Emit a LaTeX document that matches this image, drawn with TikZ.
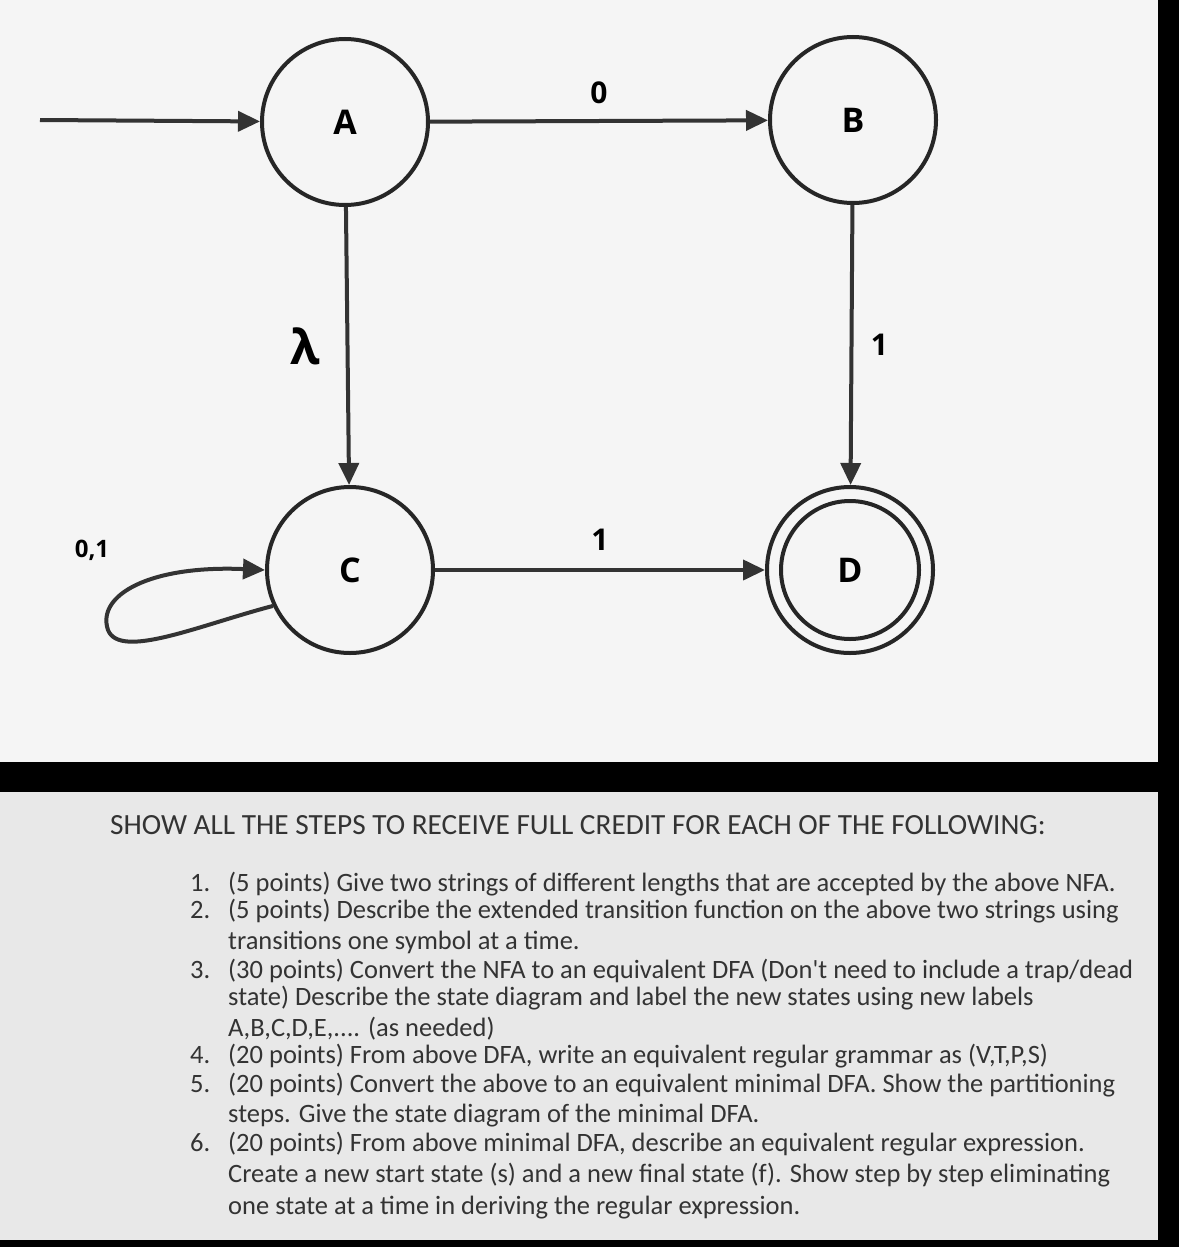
\documentclass[tikz,border=0pt]{standalone}
\usepackage{fontspec}
\setmainfont{Open Sans}
\newfontfamily\carl{Carlito}
\usetikzlibrary{arrows.meta}
\begin{document}
\begin{tikzpicture}[x=1pt,y=-1pt,
  st/.style={circle,draw=black!85,line width=4pt,minimum size=166pt,inner sep=0pt,font=\fontsize{34}{34}\selectfont\bfseries},
  tr/.style={draw=black!80,line width=4pt,-{Triangle[length=22pt,width=20pt]}},
  lb/.style={font=\fontsize{30}{30}\selectfont\bfseries},
  tx/.style={anchor=base west,inner sep=0pt,text=black!80,font=\carl\fontsize{26.5}{27}\selectfont}]
\useasboundingbox (0,0) rectangle (1179,1247);
\fill[black!4] (0,0) rectangle (1179,762);
\fill[black] (0,762) rectangle (1179,792);
\fill[black] (1158,0) rectangle (1179,1247);
\fill[black!9] (0,792) rectangle (1158,1240);
\fill[black] (0,1240) rectangle (1179,1247);
\node[st] (A) at (345,122) {A};
\node[st] (B) at (853,120) {B};
\node[st] (C) at (350,570) {C};
\node[st] (D) at (850,570) {D};
\node[circle,draw=black!85,line width=4pt,minimum size=138pt] (Di) at (850,570) {};
\coordinate (s) at (40,120);
\draw[tr] (s) -- (A);
\draw[tr] (A) -- node[lb,above=12pt] {0} (B);
\draw[tr] (A) -- node[left=22pt,font=\fontsize{48}{48}\selectfont\bfseries] {λ} (C);
\draw[tr] (B) -- node[lb,right=14pt] {1} (D);
\draw[tr] (C) -- node[lb,above=14pt] {1} (D);
\draw[tr] (C.-155) .. controls (200,625) and (120,660) .. (108,630) .. controls (96,595) and (150,565) .. (C.west);
\node[font=\fontsize{24}{24}\selectfont\bfseries] at (92,550) {0,1};
\node[tx,font=\carl\fontsize{29.3}{30}\selectfont] at (110,834) {SHOW ALL THE STEPS TO RECEIVE FULL CREDIT FOR EACH OF THE FOLLOWING:};
\foreach \n/\y in {1./891,2./918,3./978,4./1063,5./1092,6./1151}
  \node[tx] at (190,\y) {\n};
\node[tx] at (228,891) {(5 points) Give two strings of different lengths that are accepted by the above NFA.};
\node[tx] at (228,918) {(5 points) Describe the extended transition function on the above two strings using};
\node[tx] at (228,949) {transitions one symbol at a time.};
\node[tx] at (228,978) {(30 points) Convert the NFA to an equivalent DFA (Don't need to include a trap/dead};
\node[tx] at (228,1005) {state) Describe the state diagram and label the new states using new labels};
\node[tx] at (228,1036) {A,B,C,D,E,.... (as needed)};
\node[tx] at (228,1063) {(20 points) From above DFA, write an equivalent regular grammar as (V,T,P,S)};
\node[tx] at (228,1092) {(20 points) Convert the above to an equivalent minimal DFA. Show the partitioning};
\node[tx] at (228,1122) {steps. Give the state diagram of the minimal DFA.};
\node[tx] at (228,1151) {(20 points) From above minimal DFA, describe an equivalent regular expression.};
\node[tx] at (228,1182) {Create a new start state (s) and a new final state (f). Show step by step eliminating};
\node[tx] at (228,1214) {one state at a time in deriving the regular expression.};
\end{tikzpicture}
\end{document}
